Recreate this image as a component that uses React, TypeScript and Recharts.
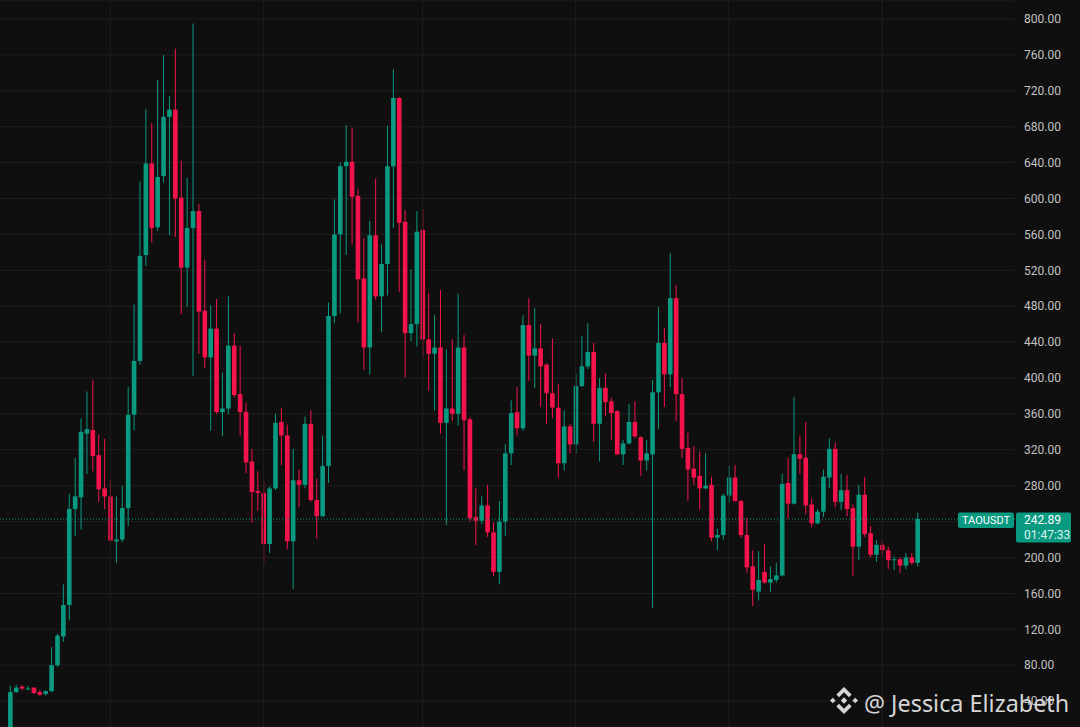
import React from 'react';
import { ComposedChart, Bar, XAxis, YAxis, CartesianGrid, ReferenceLine } from 'recharts';

// weekly TAOUSDT candles
const opens = [
  8, 50, 56, 53, 55, 50, 48, 51, 80, 112, 147, 254, 267, 338, 342, 314, 277, 268, 218, 220,
  255, 359, 419, 537, 639, 568, 625, 691, 699, 601, 523, 567, 586, 475, 423, 455, 362, 366, 436, 382,
  362, 307, 274, 272, 215, 277, 351, 336, 218, 286, 281, 349, 264, 246, 302, 469, 560, 636, 641, 603,
  511, 434, 559, 491, 527, 636, 712, 574, 450, 460, 565, 443, 427, 434, 350, 366, 360, 434, 354, 245,
  241, 258, 228, 184, 240, 316, 362, 344, 459, 425, 433, 415, 383, 367, 305, 346, 326, 391, 413, 429,
  349, 389, 374, 363, 315, 327, 351, 334, 308, 315, 384, 439, 404, 489, 382, 322, 299, 291, 277, 281,
  222, 225, 269, 289, 263, 225, 190, 162, 184, 172, 175, 180, 283, 260, 315, 311, 259, 238, 251, 289,
  321, 262, 275, 255, 212, 270, 227, 203, 214, 208, 197, 198, 191, 200, 194,
];
const highs = [
  57, 58, 58, 57, 55, 52, 52, 100, 115, 170, 271, 311, 355, 385, 398, 337, 332, 287, 268, 280,
  390, 482, 619, 700, 684, 732, 760, 714, 767, 642, 623, 795, 594, 532, 481, 488, 406, 491, 450, 436,
  372, 321, 296, 285, 279, 360, 367, 348, 321, 298, 357, 364, 288, 336, 484, 599, 640, 682, 679, 611,
  556, 575, 622, 549, 681, 744, 713, 587, 521, 586, 588, 495, 470, 498, 432, 443, 494, 448, 356, 277,
  268, 281, 239, 263, 326, 375, 390, 470, 489, 478, 460, 416, 444, 393, 364, 349, 405, 447, 461, 439,
  400, 405, 378, 364, 331, 371, 374, 335, 331, 398, 479, 456, 539, 504, 400, 339, 324, 318, 316, 290,
  232, 271, 302, 303, 264, 244, 208, 207, 215, 190, 194, 293, 311, 379, 336, 351, 266, 254, 298, 333,
  328, 293, 292, 259, 281, 290, 235, 219, 218, 212, 201, 200, 205, 205, 250,
];
const lows = [
  5, 49, 52, 52, 48, 46, 46, 50, 78, 106, 130, 224, 231, 293, 296, 262, 254, 218, 194, 217,
  235, 342, 415, 525, 551, 564, 618, 559, 557, 471, 479, 402, 427, 411, 341, 360, 335, 360, 378, 336,
  294, 239, 252, 194, 205, 275, 303, 209, 165, 256, 277, 262, 221, 245, 283, 461, 472, 537, 549, 462,
  409, 404, 487, 451, 492, 567, 496, 401, 441, 435, 422, 386, 364, 338, 236, 352, 347, 297, 240, 214,
  237, 223, 179, 170, 224, 303, 336, 341, 397, 389, 368, 349, 355, 289, 297, 316, 316, 390, 410, 329,
  307, 358, 331, 314, 303, 326, 333, 291, 297, 144, 343, 368, 390, 352, 311, 263, 281, 253, 276, 218,
  208, 220, 261, 262, 222, 183, 146, 152, 171, 162, 172, 179, 243, 259, 293, 248, 234, 237, 245, 277,
  256, 253, 246, 179, 197, 223, 200, 195, 201, 187, 186, 183, 187, 192, 190,
];
const closes = [
  50, 55, 54, 54, 49, 47, 51, 80, 113, 147, 254, 268, 340, 343, 313, 276, 268, 219, 220, 255,
  359, 419, 536, 639, 567, 624, 691, 699, 600, 523, 567, 586, 474, 423, 455, 362, 366, 436, 381, 362,
  306, 273, 272, 215, 277, 350, 336, 218, 286, 281, 349, 264, 246, 302, 469, 560, 636, 641, 602, 510,
  434, 559, 491, 527, 636, 712, 573, 450, 460, 563, 443, 427, 434, 350, 366, 360, 434, 353, 244, 241,
  258, 228, 184, 240, 316, 361, 344, 459, 425, 433, 413, 383, 367, 305, 346, 326, 391, 413, 429, 349,
  389, 373, 361, 315, 327, 351, 335, 308, 316, 384, 439, 404, 489, 382, 321, 298, 289, 277, 280, 222,
  225, 269, 289, 263, 225, 189, 164, 175, 172, 176, 180, 282, 260, 315, 310, 258, 238, 251, 290, 321,
  262, 275, 254, 212, 270, 226, 203, 214, 208, 197, 198, 191, 200, 194, 242.89,
];

const priceTicks = [40, 80, 120, 160, 200, 240, 280, 320, 360, 400, 440, 480, 520, 560, 600, 640, 680, 720, 760, 800];
// candle index where each half-year starts
const halfYearMarks = [17, 43, 70, 96, 122, 148];

const symbol = 'TAOUSDT';
const lastPrice = closes[closes.length - 1];
const countdown = '01:47:33';

const UP = '#089981';
const DOWN = '#f5134b';
const BG = '#0f0f0f';
const GRID = '#1f1f1f';
const FONT = 'Roboto, sans-serif';

const candles = opens.map((open, i) => ({
  i,
  open,
  high: highs[i],
  low: lows[i],
  close: closes[i],
  range: [lows[i], highs[i]],
}));

const Candle = (props: any) => {
  const { x, width, payload } = props;
  let { y, height } = props;
  if (height < 0) {
    y += height;
    height = -height;
  }
  const { open, close, high, low } = payload;
  const color = close >= open ? UP : DOWN;
  const unit = high === low ? 0 : height / (high - low);
  const yAt = (v: number) => y + (high - v) * unit;
  const top = yAt(Math.max(open, close));
  const bodyH = Math.max(1, yAt(Math.min(open, close)) - top);
  const cx = x + width / 2;
  return (
    <g>
      <line x1={cx} x2={cx} y1={y} y2={y + height} stroke={color} strokeWidth={1} />
      <rect x={x} y={top} width={width} height={bodyH} fill={color} />
    </g>
  );
};

// the last-price tag sits over the scale, so the label it covers is not drawn
const PriceTick = (props: any) => {
  const { x, y, payload } = props;
  const v = payload.value;
  if (v > lastPrice - 28 && v < lastPrice + 8) return null;
  return (
    <text x={x} y={y} dy="0.355em" textAnchor="start" fill="#c2c2c2" fontSize={12} fontFamily={FONT}>
      {v.toFixed(2)}
    </text>
  );
};

const PriceTag = ({ viewBox }: any) => {
  if (!viewBox) return null;
  const right = viewBox.x + viewBox.width;
  const cy = viewBox.y;
  return (
    <g fontFamily={FONT}>
      <rect x={right - 57} y={cy - 6.5} width={56} height={15.5} rx={2} fill={UP} />
      <text x={right - 29} y={cy + 5.5} textAnchor="middle" fontSize={11} fill="#ffffff">
        {symbol}
      </text>
      <rect x={right + 1} y={cy - 6.5} width={55} height={30} rx={2} fill={UP} />
      <text x={right + 9} y={cy + 5.5} fontSize={12} fill="#ffffff">
        {lastPrice.toFixed(2)}
      </text>
      <text x={right + 9} y={cy + 20.5} fontSize={12} fill="#dff3ee">
        {countdown}
      </text>
    </g>
  );
};

const BinanceMark = () => (
  <g transform="translate(844 700.5)" fill="#d6d6d6">
    <path d="M0,-13.5 L7.6,-5.9 L5,-3.3 L0,-8.3 L-5,-3.3 L-7.6,-5.9 Z" />
    <path d="M0,13.5 L7.6,5.9 L5,3.3 L0,8.3 L-5,3.3 L-7.6,5.9 Z" />
    <path d="M0,-3.2 L3.2,0 L0,3.2 L-3.2,0 Z" />
    <path d="M-14,0 L-11.2,-2.8 L-8.4,0 L-11.2,2.8 Z" />
    <path d="M14,0 L11.2,-2.8 L8.4,0 L11.2,2.8 Z" />
  </g>
);

export default function App() {
  return (
    <div style={{ position: 'absolute', left: 0, top: 0, width: 1080, height: 727, background: BG, overflow: 'hidden' }}>
      <ComposedChart width={1080} height={727} data={candles} margin={{ top: 0, right: 0, bottom: 0, left: 0 }}>
        <CartesianGrid stroke={GRID} vertical={false} />
        <XAxis dataKey="i" type="number" domain={[-1.697, 170.57]} allowDataOverflow hide />
        <YAxis
          orientation="right"
          width={65}
          domain={[11.1, 821.2]}
          allowDataOverflow
          ticks={priceTicks}
          interval={0}
          axisLine={false}
          tickLine={false}
          tickSize={6}
          tickMargin={3}
          tick={<PriceTick />}
        />
        {halfYearMarks.map((m) => (
          <ReferenceLine key={m} x={m} stroke={GRID} strokeWidth={1} />
        ))}
        <Bar dataKey="range" barSize={4.6} shape={<Candle />} isAnimationActive={false} />
        <ReferenceLine
          y={lastPrice}
          stroke={UP}
          strokeDasharray="1 2"
          label={(p: any) => <PriceTag viewBox={p.viewBox} />}
        />
      </ComposedChart>
      <svg width={1080} height={727} style={{ position: 'absolute', left: 0, top: 0, pointerEvents: 'none' }}>
        <BinanceMark />
        <text x={864} y={712} fontSize={23.4} fontFamily="'Noto Sans', sans-serif" fill="#d6d6d6">
          @ Jessica Elizabeth
        </text>
      </svg>
    </div>
  );
}
